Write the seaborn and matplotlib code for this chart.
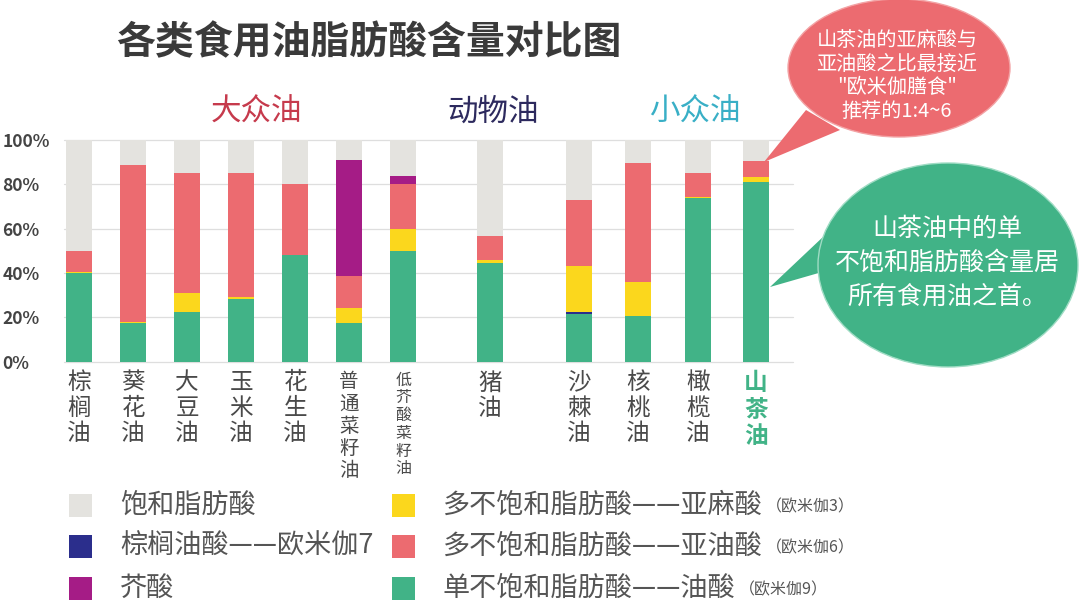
import numpy as np
import pandas as pd
import matplotlib
matplotlib.use("Agg")
import matplotlib.pyplot as plt
from matplotlib.patches import Ellipse, Polygon, Rectangle
import seaborn as sns

# 数据（%）
oils = ["棕榈油", "葵花油", "大豆油", "玉米油", "花生油", "普通菜籽油", "低芥酸菜籽油",
        "猪油", "沙棘油", "核桃油", "橄榄油", "山茶油"]
oleic = [40.0, 17.3, 22.6, 28.3, 48.3, 17.3, 50.1, 44.7, 21.7, 20.8, 74.0, 81.2]
palmitoleic = [0, 0, 0, 0, 0, 0, 0, 0, 0.5, 0, 0, 0]
linolenic = [0.6, 0.6, 8.6, 0.8, 0, 7.1, 9.7, 1.3, 21.1, 15.0, 0.5, 2.2]
linoleic = [9.5, 70.9, 53.8, 55.9, 31.9, 14.4, 20.2, 10.9, 29.6, 54.0, 10.4, 7.1]
erucic = [0, 0, 0, 0, 0, 52.2, 3.8, 0, 0, 0, 0, 0]
saturated = [49.9, 11.2, 15.0, 15.0, 19.8, 9.0, 16.2, 43.1, 27.1, 10.2, 15.1, 9.5]

groups = ["大众油", "动物油", "小众油"]
yticks = [0, 20, 40, 60, 80, 100]

legend_names = ["饱和脂肪酸", "棕榈油酸——欧米伽7", "芥酸",
                "多不饱和脂肪酸——亚麻酸", "多不饱和脂肪酸——亚油酸", "单不饱和脂肪酸——油酸"]
legend_notes = ["", "", "", "（欧米伽3）", "（欧米伽6）", "（欧米伽9）"]

note_red = "山茶油的亚麻酸与\n亚油酸之比最接近\n\"欧米伽膳食\"\n推荐的1:4~6"
note_green = "山茶油中的单\n不饱和脂肪酸含量居\n所有食用油之首。"

# 版式
xpos = [0, 1, 2, 3, 4, 5, 6, 7.61, 9.25, 10.35, 11.46, 12.53]
GREEN, NAVY, YELLOW = "#41b387", "#2b2e8c", "#fbd71d"
RED, PURPLE, GREY = "#ec6b70", "#a51c86", "#e4e3df"

sns.set_theme(style="white")
plt.rcParams["font.family"] = ["Noto Sans CJK SC", "DejaVu Sans"]

df = pd.DataFrame({"x": xpos, "oleic": oleic, "palmitoleic": palmitoleic,
                   "linolenic": linolenic, "linoleic": linoleic,
                   "erucic": erucic, "saturated": saturated})
cols = ["oleic", "palmitoleic", "linolenic", "linoleic", "erucic", "saturated"]
colors = dict(zip(cols, [GREEN, NAVY, YELLOW, RED, PURPLE, GREY]))
cum = df[cols].cumsum(axis=1)

W, H = 1080, 601
fig = plt.figure(figsize=(W / 100, H / 100), dpi=100)
ax = fig.add_axes([64 / W, (H - 361.7) / H, (793 - 64) / W, (361.7 - 140) / H])

# 叠加柱：从顶层累计值往下画
for c in reversed(cols):
    sns.barplot(x=df["x"], y=cum[c], color=colors[c], native_scale=True, orient="x",
                width=0.48, saturation=1, linewidth=0, errorbar=None, ax=ax, zorder=3)

ax.set_xlim(-0.283, 13.22)
ax.set_ylim(0, 100)
ax.set_xlabel("")
ax.set_ylabel("")
for s in ax.spines.values():
    s.set_visible(False)
ax.set_yticks(yticks)
ax.yaxis.grid(True, color="#dedede", linewidth=0.9, zorder=0)
ax.set_axisbelow(True)
for gl in ax.get_ygridlines():
    gl.set_clip_on(False)
ax.set_yticklabels([f"{v}%" for v in yticks], fontsize=12.5, fontweight="bold",
                   color="#444444", ha="left")
ax.tick_params(axis="y", length=0, pad=44.5)

ax.set_xticks(xpos)
ax.set_xticklabels(["\n".join(o) for o in oils], color="#4a4a4a")
ax.tick_params(axis="x", length=0, pad=7)
for lab, o in zip(ax.get_xticklabels(), oils):
    if len(o) == 5:
        lab.set_fontsize(14)
        lab.set_linespacing(1.07)
    elif len(o) == 6:
        lab.set_fontsize(11.5)
        lab.set_linespacing(1.06)
    else:
        lab.set_fontsize(17)
        lab.set_linespacing(1.13)
    if o == "山茶油":
        lab.set_color(GREEN)
        lab.set_fontweight("bold")

# 覆盖层：像素坐标
ov = fig.add_axes([0, 0, 1, 1], zorder=5)
ov.set_xlim(0, W)
ov.set_ylim(H, 0)
ov.axis("off")
ov.patch.set_alpha(0)

ov.text(369, 43, "各类食用油脂肪酸含量对比图", fontsize=28, fontweight="bold",
        color="#3a3a3a", ha="center", va="center")
for g, gx, gc in zip(groups, [256, 493, 695], ["#c63a4c", "#2d2a5e", "#39afc6"]):
    ov.text(gx, 112, g, fontsize=22, color=gc, ha="center", va="center")

# 气泡
ov.add_patch(Polygon([(764, 162), (806, 110), (840, 130)], closed=True, fc=RED, ec="none"))
ov.add_patch(Ellipse((899, 68), 222, 138, fc=RED, ec="#f3a3a5", lw=1))
ov.text(897, 76, note_red, fontsize=14.5, color="white", ha="center", va="center",
        linespacing=1.17)
ov.add_patch(Polygon([(770, 287), (824, 236), (836, 268)], closed=True, fc=GREEN, ec="none"))
ov.add_patch(Ellipse((948, 265), 260, 204, fc=GREEN, ec="#9fdcc4", lw=1))
ov.text(947, 263, note_green, fontsize=18, color="white", ha="center", va="center",
        linespacing=1.4)

# 图例
leg_colors = [GREY, NAVY, PURPLE, YELLOW, RED, GREEN]
fig.canvas.draw()
renderer = fig.canvas.get_renderer()
for i, (name, note, c) in enumerate(zip(legend_names, legend_notes, leg_colors)):
    col, row = divmod(i, 3)
    sx = [69, 392][col]
    yc = [505, 546, 588][row]
    ov.add_patch(Rectangle((sx, yc - 11.5), 23, 23, fc=c, ec="none"))
    t = ov.text(sx + 51, yc, name, fontsize=19.5, color="#555555", ha="left", va="center")
    if note:
        bb = t.get_window_extent(renderer)
        ov.text(bb.x1 + 3, yc + 2, note, fontsize=11.5, color="#555555", ha="left", va="center")

fig.savefig("out.png", dpi=100)
